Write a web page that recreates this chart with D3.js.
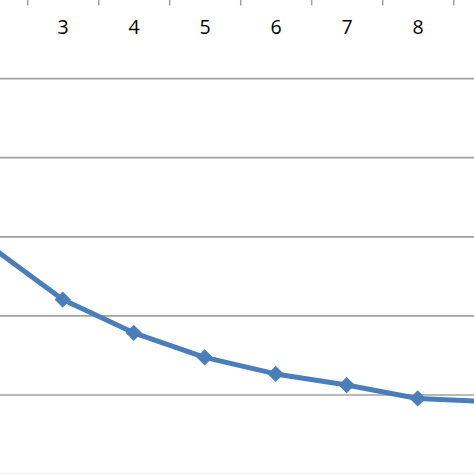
<!DOCTYPE html>
<html>
<head>
<meta charset="utf-8">
<script src="https://cdn.jsdelivr.net/npm/d3@7"></script>
<style>
    html, body { margin: 0; padding: 0; background: #ffffff; }
    svg { display: block; }
</style>
</head>
<body>
<svg id="chart"></svg>
<script>
// Categories along the top axis (2 and 9 sit just outside the crop)
const categories = [2, 3, 4, 5, 6, 7, 8, 9];
const values = [28.6, 22.0, 17.8, 14.7, 12.6, 11.2, 9.5, 9.1];
// Only the labels that fall inside the crop are shown
const labelledCategories = [3, 4, 5, 6, 7, 8];
const gridValues = [10, 20, 30, 40, 50];

const width = 474;
const height = 474;

const svg = d3.select('#chart')
    .attr('width', width)
    .attr('height', height);

const x = d3.scaleLinear().domain([3, 8]).range([62.7, 417.7]);
const y = d3.scaleLinear().domain([0, 60]).range([473.6, -1]);

// Plot area border (faint, only the bottom edge is visible)
svg.append('line')
    .attr('x1', 0).attr('x2', width)
    .attr('y1', y(0)).attr('y2', y(0))
    .attr('stroke', '#efefef')
    .attr('stroke-width', 1.5);

// Horizontal gridlines
const grid = svg.append('g')
    .call(d3.axisLeft(y)
        .tickValues(gridValues)
        .tickSize(-width - 20)
        .tickFormat(''));
grid.select('.domain').remove();
grid.selectAll('line')
    .attr('transform', 'translate(-10,0)')
    .attr('stroke', '#a0a0a0')
    .attr('stroke-width', 1.7);

// Category axis along the top, tick marks between categories
const boundaries = categories.slice(0, -1).map(c => c + 0.5);
boundaries.unshift(categories[0] - 0.5);

const axisTicks = svg.append('g')
    .attr('transform', `translate(0,${y(60)})`)
    .call(d3.axisBottom(x)
        .tickValues(boundaries)
        .tickSize(6.5)
        .tickFormat(''));
axisTicks.select('.domain')
    .attr('d', `M${-10},0H${width + 10}`)
    .attr('stroke', '#a0a0a0')
    .attr('stroke-width', 1.5);
axisTicks.selectAll('line')
    .attr('stroke', '#a0a0a0')
    .attr('stroke-width', 1.5);

const axisLabels = svg.append('g')
    .attr('transform', `translate(0,${y(60)})`)
    .call(d3.axisBottom(x)
        .tickValues(labelledCategories)
        .tickSize(0)
        .tickPadding(21)
        .tickFormat(d => String(d)));
axisLabels.select('.domain').remove();
axisLabels.selectAll('text')
    .attr('font-family', 'Open Sans, Lato, sans-serif')
    .attr('font-size', 19.5)
    .attr('fill', '#000000');

// Series line
const points = categories.map((c, i) => ({ c, v: values[i] }));

svg.append('path')
    .datum(points)
    .attr('fill', 'none')
    .attr('stroke', '#4a7ebb')
    .attr('stroke-width', 5)
    .attr('stroke-linejoin', 'round')
    .attr('d', d3.line()
        .x(d => x(d.c))
        .y(d => y(d.v)));

// Diamond markers
const diamond = d3.symbol(d3.symbolSquare, 110);

svg.append('g').selectAll('path')
    .data(points)
    .join('path')
    .attr('d', diamond)
    .attr('transform', d => `translate(${x(d.c)},${y(d.v)}) rotate(45)`)
    .attr('fill', '#4a7ebb')
    .attr('stroke', '#4a7ebb')
    .attr('stroke-width', 1);
</script>
</body>
</html>
